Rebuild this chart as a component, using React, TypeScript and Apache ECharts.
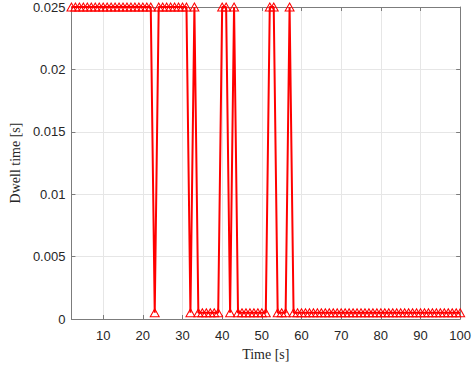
import { useEffect, useRef } from "react";
import * as echarts from "echarts";

// Time stamps [s]
const times = [
  2, 3, 4, 5, 6, 7, 8, 9, 10, 11, 12, 13, 14, 15, 16, 17, 18, 19, 20, 21,
  22, 23, 24, 25, 26, 27, 28, 29, 30, 31, 32, 33, 34, 35, 36, 37, 38, 39, 40, 41,
  42, 43, 44, 45, 46, 47, 48, 49, 50, 51, 52, 53, 54, 55, 56, 57, 58, 59, 60, 61,
  62, 63, 64, 65, 66, 67, 68, 69, 70, 71, 72, 73, 74, 75, 76, 77, 78, 79, 80, 81,
  82, 83, 84, 85, 86, 87, 88, 89, 90, 91, 92, 93, 94, 95, 96, 97, 98, 99, 100,
];

// Dwell time [s]
const dwell = [
  // t = 2..21
  0.025, 0.025, 0.025, 0.025, 0.025, 0.025, 0.025, 0.025, 0.025, 0.025,
  0.025, 0.025, 0.025, 0.025, 0.025, 0.025, 0.025, 0.025, 0.025, 0.025,
  // t = 22..41
  0.025, 0.0005, 0.025, 0.025, 0.025, 0.025, 0.025, 0.025, 0.025, 0.025,
  0.0005, 0.025, 0.0005, 0.0005, 0.0005, 0.0005, 0.0005, 0.0005, 0.025, 0.025,
  // t = 42..61
  0.0005, 0.025, 0.0005, 0.0005, 0.0005, 0.0005, 0.0005, 0.0005, 0.0005, 0.0005,
  0.025, 0.025, 0.0005, 0.0005, 0.0005, 0.025, 0.0005, 0.0005, 0.0005, 0.0005,
  // t = 62..81
  0.0005, 0.0005, 0.0005, 0.0005, 0.0005, 0.0005, 0.0005, 0.0005, 0.0005, 0.0005,
  0.0005, 0.0005, 0.0005, 0.0005, 0.0005, 0.0005, 0.0005, 0.0005, 0.0005, 0.0005,
  // t = 82..100
  0.0005, 0.0005, 0.0005, 0.0005, 0.0005, 0.0005, 0.0005, 0.0005, 0.0005, 0.0005,
  0.0005, 0.0005, 0.0005, 0.0005, 0.0005, 0.0005, 0.0005, 0.0005, 0.0005,
];

const xTicks = [10, 20, 30, 40, 50, 60, 70, 80, 90, 100];
const yTickLabels = ["0", "0.005", "0.01", "0.015", "0.02", "0.025"];

export default function App() {
  const ref = useRef<HTMLDivElement>(null);

  useEffect(() => {
    if (!ref.current) return;
    const chart = echarts.init(ref.current, null, { renderer: "svg" });
    const axisColor = "#7c7c7c";
    const labelColor = "#262626";
    const gridColor = "#e6e6e6";
    const sans = "Liberation Sans, Arial, sans-serif";
    const serif = "Liberation Serif, Times New Roman, serif";

    chart.setOption({
      animation: false,
      backgroundColor: "#ffffff",
      grid: { left: 57, right: 11, top: 7, bottom: 40, containLabel: false },
      xAxis: [
        {
          type: "value",
          min: 2,
          max: 100,
          position: "bottom",
          axisLine: { show: true, onZero: false, lineStyle: { color: axisColor, width: 1 } },
          axisTick: {
            show: true,
            inside: true,
            length: 4,
            customValues: xTicks,
            lineStyle: { color: axisColor },
          },
          axisLabel: {
            customValues: xTicks,
            color: labelColor,
            fontFamily: sans,
            fontSize: 13,
            margin: 10,
          },
          splitLine: { show: true, lineStyle: { color: gridColor, width: 1 } },
          name: "Time [s]",
          nameLocation: "middle",
          nameGap: 28,
          nameTextStyle: { fontFamily: serif, fontSize: 14, color: labelColor },
        },
        {
          type: "value",
          min: 2,
          max: 100,
          position: "top",
          axisLine: { show: true, onZero: false, lineStyle: { color: axisColor, width: 1 } },
          axisTick: {
            show: true,
            inside: true,
            length: 4,
            customValues: xTicks,
            lineStyle: { color: axisColor },
          },
          axisLabel: { show: false },
          splitLine: { show: false },
        },
      ],
      yAxis: [
        {
          type: "value",
          min: 0,
          max: 0.025,
          interval: 0.005,
          position: "left",
          axisLine: { show: true, onZero: false, lineStyle: { color: axisColor, width: 1 } },
          axisTick: { show: true, inside: true, length: 4, lineStyle: { color: axisColor } },
          axisLabel: {
            color: labelColor,
            fontFamily: sans,
            fontSize: 13,
            margin: 6,
            formatter: (v: number) => yTickLabels[Math.round(v / 0.005)] ?? String(v),
          },
          splitLine: { show: true, lineStyle: { color: gridColor, width: 1 } },
          name: "Dwell time [s]",
          nameLocation: "middle",
          nameGap: 43,
          nameTextStyle: { fontFamily: serif, fontSize: 14, color: labelColor },
        },
        {
          type: "value",
          min: 0,
          max: 0.025,
          interval: 0.005,
          position: "right",
          axisLine: { show: true, onZero: false, lineStyle: { color: axisColor, width: 1 } },
          axisTick: { show: true, inside: true, length: 4, lineStyle: { color: axisColor } },
          axisLabel: { show: false },
          splitLine: { show: false },
        },
      ],
      series: [
        {
          type: "line",
          xAxisIndex: 0,
          yAxisIndex: 0,
          data: times.map((t, i) => [t, dwell[i]]),
          clip: false,
          symbol: "triangle",
          symbolSize: [9, 8],
          showAllSymbol: true,
          lineStyle: { color: "#ff0000", width: 2 },
          itemStyle: { color: "rgba(255,255,255,0)", borderColor: "#ff0000", borderWidth: 1 },
          z: 5,
        },
      ],
    });

    return () => chart.dispose();
  }, []);

  return (
    <div
      ref={ref}
      style={{ position: "absolute", left: 0, top: 0, width: 474, height: 366 }}
    />
  );
}
